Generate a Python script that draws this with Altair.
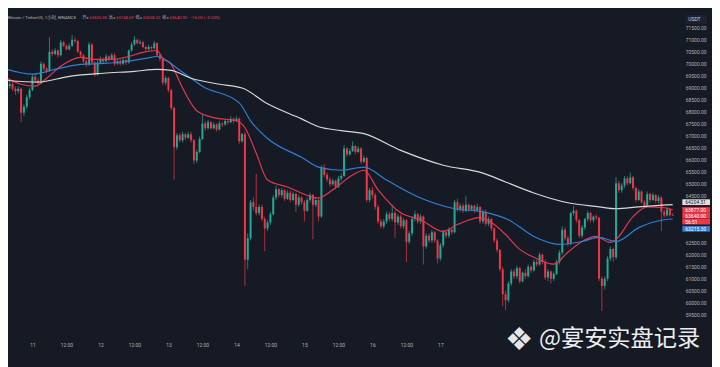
import altair as alt
import pandas as pd

# ---- data (BTC/USDT 1h, hours from 2024-04-11 00:00 UTC+8) ----
hours = list(range(-9, 227))
first_open = 69450
closes = [
    69050, 69150, 68950, 68850, 68950, 67950, 68200, 68600, 68900, 69450,
    69300, 69200, 70000, 69800, 69700, 70500, 70400, 70550, 70350, 70900,
    70750, 70600, 70750, 71000, 70950, 70500, 70350, 70100, 69950, 70800,
    70050, 69550, 70050, 70200, 70100, 70300, 70200, 70350, 70000, 70100,
    70000, 70150, 70050, 70550, 70800, 71000, 70850, 70900, 70700, 70600,
    70700, 70650, 70850, 70350, 70200, 69200, 69400, 68900, 68150, 66500,
    67000, 66800, 67050, 66900, 67050, 66800, 65950, 66300, 66850, 67500,
    67300, 67550, 67300, 67450, 67250, 67500, 67450, 67600, 67550, 67700,
    67600, 67700, 66750, 67050, 61800, 62700, 64200, 64000, 63750, 64000,
    63500, 63100, 63350, 63700, 64400, 64750, 64500, 64700, 64350, 64600,
    64300, 64550, 64100, 64400, 64200, 63850, 64300, 64500, 64100, 64300,
    63600, 65650, 65350, 65150, 64950, 65100, 64850, 65200, 65300, 66450,
    66200, 66350, 66550, 66300, 66450, 65900, 66050, 64300, 64700, 64500,
    64000, 63400, 63200, 63400, 63700, 63500, 63750, 63350, 63600, 63200,
    63450, 62550, 62900, 63500, 63700, 63400, 63600, 62350, 62800, 62600,
    62950, 62600, 61850, 62400, 62950, 62800, 63050, 62950, 64200, 63900,
    64050, 63850, 64100, 63900, 64050, 63850, 64000, 63400, 63800, 63300,
    63500, 63100, 62600, 62200, 61400, 60350, 60100, 60800, 61300, 61100,
    61450, 60900, 61250, 61100, 61500, 61350, 61700, 61600, 62000, 61700,
    61050, 61300, 61000, 61200, 61700, 62100, 63050, 62700, 62450, 63750,
    63850, 63450, 62800, 63150, 63500, 63750, 63450, 63600, 63550, 61000,
    60700, 61000, 61850, 62250, 61900, 65000, 64700, 64900, 65200, 65000,
    65250, 64800, 64300, 64650, 64200, 64050, 64550, 64300, 64500, 64250,
    64400, 63800, 63650, 63900, 63656, 63640,
]
highs = [
    69550, 69300, 69250, 69050, 69050, 69000, 68300, 68700, 69000, 69550,
    69550, 69400, 70100, 70050, 69850, 71100, 70600, 70650, 70600, 71000,
    70950, 70800, 70850, 71200, 71100, 71000, 70550, 70400, 70200, 70900,
    70850, 70100, 70150, 70300, 70250, 70400, 70350, 70450, 70450, 70200,
    70200, 70250, 70200, 70600, 70900, 71150, 71050, 71000, 70950, 70750,
    70800, 70750, 70950, 70900, 70400, 70250, 69500, 69450, 68950, 68200,
    67100, 67100, 67150, 67100, 67150, 67150, 66850, 66400, 66950, 67900,
    67600, 67650, 67600, 67550, 67500, 67600, 67550, 67700, 67700, 67800,
    67750, 67800, 67750, 67100, 67150, 62900, 64300, 64400, 65400, 64100,
    64100, 63600, 63450, 63800, 64500, 64900, 64800, 64800, 64750, 64700,
    64700, 64650, 64600, 64500, 64450, 64300, 64400, 64600, 64550, 64400,
    64400, 65750, 65800, 65450, 65250, 65200, 65150, 65300, 65400, 66600,
    66500, 66450, 66750, 66600, 66550, 66500, 66150, 66100, 64800, 64850,
    64600, 64100, 63500, 63500, 63800, 63800, 64100, 63850, 63700, 63700,
    63550, 63500, 63000, 63600, 63850, 63750, 63700, 63650, 62900, 62900,
    63050, 63000, 62650, 62500, 63050, 63000, 63150, 63100, 64300, 64350,
    64150, 64150, 64450, 64150, 64100, 64100, 64150, 64050, 63900, 63900,
    63600, 63550, 63150, 62700, 62250, 61500, 60500, 60900, 61400, 61400,
    61550, 61500, 61300, 61400, 61600, 61550, 61800, 61800, 62100, 62050,
    61800, 61400, 61350, 61300, 61800, 62200, 63200, 63150, 62800, 63800,
    64050, 63900, 63500, 63250, 63550, 63850, 63800, 63650, 63700, 63600,
    61100, 61100, 61950, 62350, 62300, 65250, 65100, 65000, 65300, 65300,
    65450, 65300, 64850, 64750, 64700, 64300, 64650, 64600, 64600, 64550,
    64500, 64450, 63900, 64000, 63950, 63749,
]
lows = [
    68950, 68950, 68850, 68700, 68750, 67550, 67800, 68100, 68500, 68850,
    69200, 69100, 69150, 69700, 69600, 69650, 70300, 70350, 70250, 70300,
    70700, 70550, 70550, 70700, 70850, 70450, 70250, 70000, 69850, 69900,
    69950, 69450, 69500, 70000, 70000, 70050, 70100, 70150, 69900, 69950,
    69900, 69950, 69950, 70000, 70500, 70750, 70800, 70800, 70650, 70500,
    70550, 70550, 70600, 70300, 70100, 69100, 69100, 68800, 68050, 65150,
    66400, 66700, 66700, 66800, 66850, 66700, 65800, 65850, 66250, 66800,
    67200, 67250, 67250, 67250, 67150, 67200, 67350, 67400, 67450, 67500,
    67500, 67550, 66650, 66700, 60700, 61400, 62600, 63850, 63650, 63650,
    63400, 62150, 63000, 63250, 63650, 64300, 64400, 64400, 64250, 64300,
    64200, 64250, 63800, 64000, 64100, 63400, 63800, 64200, 62650, 64000,
    63400, 63550, 65250, 65050, 64850, 64900, 64750, 64800, 65100, 65250,
    66100, 66150, 66300, 66200, 66250, 65800, 65850, 64200, 64200, 64350,
    63900, 63300, 63100, 63100, 63300, 63400, 63400, 62700, 63250, 63100,
    63100, 61700, 62450, 62800, 63400, 63300, 63300, 61600, 62250, 62500,
    62500, 62500, 61650, 61750, 62300, 62700, 62700, 62850, 62900, 63800,
    63800, 63750, 63800, 63800, 63850, 63750, 63800, 63300, 63300, 63200,
    63200, 63000, 62500, 62100, 61300, 59850, 59700, 60000, 60700, 61000,
    61000, 60800, 60850, 61000, 61050, 61250, 61300, 61500, 61550, 61600,
    60950, 60900, 60800, 60900, 61150, 61600, 62000, 62600, 62350, 62400,
    63650, 63350, 62700, 62700, 63050, 63400, 63350, 63350, 63450, 60900,
    59650, 60550, 60900, 61750, 61700, 61800, 64600, 64600, 64800, 64900,
    64950, 64700, 64200, 64250, 64150, 63950, 64000, 64200, 64250, 64150,
    64150, 63000, 63550, 63600, 63600, 63638,
]

# moving averages, sampled along each line
ema_fast_h = [-9, -4, 1, 5, 10, 17, 22, 28, 34, 39, 44, 46, 49, 50, 53, 58, 64, 72, 75, 79,
              83, 90, 101, 106, 113, 117, 122, 130, 137, 145, 150, 158, 162, 167, 172, 177,
              184, 189, 194, 199, 204, 206, 212, 217, 223, 226]
ema_fast_p = [69390, 69140, 69060, 69390, 69890, 70260, 70180, 70180, 70300, 70470, 70550,
              70220, 69970, 69750, 68980, 68030, 67740, 67610, 67320, 66250, 65130, 64840,
              64380, 64720, 65340, 65540, 64720, 63760, 63470, 62980, 63270, 63560, 63350,
              62850, 62230, 61900, 61610, 62110, 62560, 62770, 62520, 62650, 63600, 64010,
              63970, 63880]
ema_mid_h = [-9, 0, 8, 17, 25, 33, 40, 44, 48, 50, 56, 60, 73, 77, 83, 95, 101, 109, 117,
             125, 136, 149, 159, 168, 177, 186, 194, 200, 206, 214, 223, 226]
ema_mid_p = [69760, 69560, 69760, 69970, 70010, 70090, 70220, 70300, 70090, 69900, 69390,
             69060, 68360, 67610, 66870, 66080, 65670, 65540, 65670, 65130, 64430, 63930,
             63800, 63470, 62770, 62440, 62560, 62730, 62560, 63140, 63470, 63500]
ema_slow_h = [-9, 2, 13, 25, 36, 44, 49, 56, 66, 74, 83, 95, 101, 109, 117, 130, 145, 159,
              167, 177, 189, 200, 206, 214, 226]
ema_slow_p = [69300, 69230, 69470, 69600, 69680, 69760, 69720, 69390, 69140, 68980, 68320,
              67690, 67360, 67200, 67070, 66370, 65750, 65420, 65050, 64590, 64180, 64010,
              63930, 64010, 64100]

price_ticks = [v for v in range(59500, 72000, 500) if v not in (63000, 63500, 64000)]
time_ticks = list(range(0, 145, 12))

box_prices = [64204.51, 63877.00, 63640.00, 63391.0, 63090.0]
box_labels = ["64204.51", "63877.00", "63640.00", "56:51", "63215.30"]
box_kind = ["slow", "fast", "last", "timer", "mid"]

header_ticker = "Bitcoin / TetherUS, 1小时, BINANCE"
ohlc_names = ["开=", "高=", "低=", "收="]
ohlc_values = ["63656.00", "63748.69", "63638.32", "63640.00"]
change_text = "−16.00 (−0.03%)"
watermark = "@宴安实盘记录"

# ---- styles ----
BG = "#151a25"
GREEN = "#22ab94"
RED = "#f23645"
AXIS_TXT = "#b2b5be"
FONT = "Roboto, Noto Sans CJK SC"

opens = [first_open] + closes[:-1]
candles = pd.DataFrame({"h": hours, "o": opens, "c": closes, "hi": highs, "lo": lows})

ma = pd.concat([
    pd.DataFrame({"h": ema_fast_h, "p": ema_fast_p, "s": "fast"}),
    pd.DataFrame({"h": ema_mid_h, "p": ema_mid_p, "s": "mid"}),
    pd.DataFrame({"h": ema_slow_h, "p": ema_slow_p, "s": "slow"}),
])

boxes = pd.DataFrame({"price": box_prices, "price2": box_prices, "label": box_labels, "kind": box_kind})

xscale = alt.Scale(domain=[-6.878, 227.65], nice=False, zero=False)
yscale = alt.Scale(domain=[58716, 72245], nice=False, zero=False)

xaxis = alt.Axis(values=time_ticks, title=None, grid=False, ticks=False, domain=False,
                 labelExpr="datum.value % 24 == 0 ? toString(11 + datum.value / 24) : '12:00'",
                 labelFontSize=5, labelColor=AXIS_TXT, labelFont="Roboto", labelPadding=9,
                 labelFlush=False, labelOverlap=False)
yaxis = alt.Axis(orient="right", values=price_ticks, format=".2f", title=None, grid=False,
                 ticks=False, domain=False, labelFontSize=5, labelColor=AXIS_TXT,
                 labelFont="Roboto", labelPadding=3, labelOverlap=False, labelFlush=False)

X = alt.X("h:Q", scale=xscale, axis=xaxis)
col = alt.condition("datum.c >= datum.o", alt.value(GREEN), alt.value(RED))

base = alt.Chart(candles)
wicks = base.mark_rule(strokeWidth=0.8, clip=True, opacity=0.9).encode(
    x=X, y=alt.Y("lo:Q", scale=yscale, axis=yaxis), y2="hi:Q", color=col)
bodies = base.mark_bar(size=2, clip=True).encode(
    x=X, y=alt.Y("o:Q", scale=yscale, axis=yaxis), y2="c:Q", color=col)

lines = alt.Chart(ma).mark_line(interpolate="monotone", strokeWidth=1.2, clip=True).encode(
    x=X, y=alt.Y("p:Q", scale=yscale, axis=yaxis),
    color=alt.Color("s:N", scale=alt.Scale(domain=["fast", "mid", "slow"],
                                           range=["#e8364f", "#2f7fd6", "#d8d8d8"]), legend=None),
    detail="s:N")

box_bg = alt.Scale(domain=["slow", "fast", "last", "timer", "mid"],
                   range=["#dfe1e6", "#f23645", "#f23645", "#f23645", "#2f7fd6"])
bx = alt.Chart(boxes)
box_rects = bx.mark_rect(yOffset=-2.9, y2Offset=2.9).encode(
    x=alt.value(682), x2=alt.value(710),
    y=alt.Y("price:Q", scale=yscale, axis=yaxis), y2="price2:Q",
    fill=alt.Fill("kind:N", scale=box_bg, legend=None))
box_text = bx.mark_text(align="left", baseline="middle", fontSize=5, font="Roboto").encode(
    x=alt.value(685), y=alt.Y("price:Q", scale=yscale, axis=yaxis), text="label:N",
    color=alt.condition("datum.kind == 'slow'", alt.value("#131722"), alt.value("#ffffff")))

one = alt.Chart(pd.DataFrame({"k": [0]}))


def label(txt, x, y, size=5, color=AXIS_TXT, font=FONT, align="left", weight="normal"):
    return one.mark_text(align=align, baseline="middle", fontSize=size, font=font,
                         color=color, fontWeight=weight).encode(
        x=alt.value(x), y=alt.value(y), text=alt.value(txt))


usdt_bg = one.mark_rect(color="#1e2230").encode(
    x=alt.value(685), x2=alt.value(707), y=alt.value(5), y2=alt.value(14))
texts = [usdt_bg, label("USDT", 688, 9.5, size=5, color="#d1d4dc")]
texts.append(label(header_ticker, 0, 7.7, size=4.4))
name_x = [75, 102, 129, 156]
for nm, val, nx in zip(ohlc_names, ohlc_values, name_x):
    texts.append(label(nm, nx, 7.7, size=4.2))
    texts.append(label(val, nx + 7.5, 7.7, size=4.2, color=RED))
texts.append(label(change_text, 184, 7.7, size=4.2, color=RED))
texts.append(label("❖", 517, 334, size=32, color="#e6e6e6", font="DejaVu Sans", align="center"))
texts.append(label(watermark, 537, 333, size=23.5, color="#ececec", font="Noto Sans CJK SC"))

chart = alt.layer(wicks, bodies, lines, box_rects, box_text, *texts).properties(
    width=682, height=327,
    autosize=alt.AutoSizeParams(type="none"),
    padding={"left": 0, "top": 0, "right": 30, "bottom": 32},
    background=BG,
).configure_view(stroke=None)

chart.save("out.html", embed_options={"renderer": "svg", "actions": False})
